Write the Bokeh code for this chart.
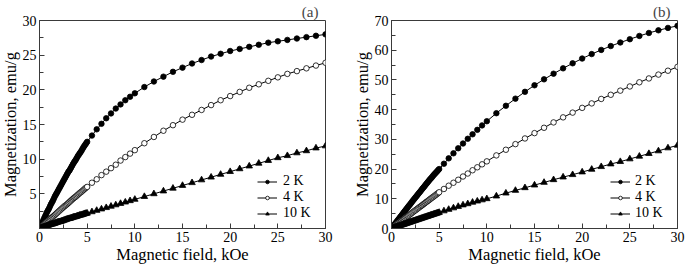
from bokeh.plotting import figure
from bokeh.layouts import row
from bokeh.models import Range1d, SingleIntervalTicker, Legend, LegendItem, Title
from bokeh.embed import file_html
from bokeh.resources import INLINE

# ---- data ----
field = [0.0, 0.1, 0.2, 0.3, 0.4, 0.5, 0.6, 0.7, 0.8, 0.9,
         1.0, 1.1, 1.2, 1.3, 1.4, 1.5, 1.6, 1.7, 1.8, 1.9,
         2.0, 2.1, 2.2, 2.3, 2.4, 2.5, 2.6, 2.7, 2.8, 2.9,
         3.0, 3.1, 3.2, 3.3, 3.4, 3.5, 3.6, 3.7, 3.8, 3.9,
         4.0, 4.1, 4.2, 4.3, 4.4, 4.5, 4.6, 4.7, 4.8, 4.9, 5.0,
         5.5, 6.0, 6.5, 7.0, 7.5, 8.0, 8.5, 9.0, 9.5, 10.0,
         11, 12, 13, 14, 15, 16, 17, 18, 19, 20, 21, 22, 23, 24, 25, 26, 27, 28, 29, 30]

a_2K = [0, 0.3, 0.6, 0.9, 1.2, 1.5, 1.8, 2.1, 2.4, 2.65,
        2.9, 3.2, 3.5, 3.75, 4.0, 4.3, 4.6, 4.85, 5.1, 5.35,
        5.6, 5.85, 6.1, 6.35, 6.6, 6.85, 7.1, 7.35, 7.6, 7.85,
        8.1, 8.3, 8.5, 8.75, 9.0, 9.25, 9.5, 9.7, 9.9, 10.15,
        10.4, 10.6, 10.8, 11.0, 11.2, 11.45, 11.7, 11.9, 12.1, 12.3, 12.5,
        13.4, 14.3, 15.1, 15.9, 16.6, 17.3, 17.9, 18.5, 19.0, 19.5,
        20.4, 21.2, 21.9, 22.6, 23.2, 23.8, 24.3, 24.8, 25.2, 25.6, 25.9, 26.2, 26.5, 26.8,
        27.0, 27.2, 27.4, 27.6, 27.8, 28.0]
a_4K = [0, 0.12, 0.25, 0.37, 0.5, 0.62, 0.75, 0.87, 1.0, 1.12,
        1.25, 1.37, 1.5, 1.6, 1.7, 1.82, 1.95, 2.07, 2.2, 2.32,
        2.45, 2.57, 2.7, 2.82, 2.95, 3.07, 3.2, 3.3, 3.4, 3.52,
        3.65, 3.77, 3.9, 4.02, 4.15, 4.27, 4.4, 4.5, 4.6, 4.72,
        4.85, 4.97, 5.1, 5.2, 5.3, 5.42, 5.55, 5.67, 5.8, 5.9, 6.0,
        6.6, 7.1, 7.7, 8.2, 8.7, 9.2, 9.8, 10.3, 10.8, 11.3,
        12.3, 13.2, 14.1, 14.9, 15.7, 16.4, 17.1, 17.8, 18.5, 19.1, 19.7, 20.3, 20.8, 21.3,
        21.8, 22.3, 22.7, 23.1, 23.5, 23.9]
a_10K = [0, 0.05, 0.1, 0.15, 0.2, 0.25, 0.3, 0.35, 0.4, 0.45,
         0.5, 0.55, 0.6, 0.62, 0.65, 0.7, 0.75, 0.8, 0.85, 0.9,
         0.95, 0.97, 1.0, 1.05, 1.1, 1.15, 1.2, 1.25, 1.3, 1.35,
         1.4, 1.42, 1.45, 1.5, 1.55, 1.6, 1.65, 1.67, 1.7, 1.75,
         1.8, 1.85, 1.9, 1.92, 1.95, 2.0, 2.05, 2.1, 2.15, 2.17, 2.2,
         2.4, 2.6, 2.8, 3.0, 3.2, 3.4, 3.6, 3.8, 4.0, 4.2,
         4.6, 5.0, 5.4, 5.8, 6.2, 6.6, 7.0, 7.4, 7.8, 8.2, 8.6, 9.0, 9.4, 9.8,
         10.2, 10.5, 10.9, 11.2, 11.6, 11.9]

b_2K = [0, 0.42, 0.85, 1.27, 1.7, 2.12, 2.55, 2.97, 3.4, 3.8,
        4.2, 4.62, 5.05, 5.47, 5.9, 6.3, 6.7, 7.12, 7.55, 7.95,
        8.35, 8.77, 9.2, 9.6, 10.0, 10.4, 10.8, 11.2, 11.6, 12.0,
        12.4, 12.8, 13.2, 13.6, 14.0, 14.4, 14.8, 15.2, 15.6, 16.0,
        16.4, 16.75, 17.1, 17.5, 17.9, 18.25, 18.6, 18.95, 19.3, 19.65, 20.0,
        21.8, 23.6, 25.3, 27.0, 28.6, 30.2, 31.7, 33.2, 34.7, 36.1,
        38.8, 41.3, 43.7, 46.0, 48.2, 50.2, 52.1, 53.9, 55.6, 57.2, 58.7, 60.1, 61.4, 62.6,
        63.7, 64.8, 65.8, 66.7, 67.5, 68.2]
b_4K = [0, 0.25, 0.5, 0.75, 1.0, 1.25, 1.5, 1.75, 2.0, 2.25,
        2.5, 2.72, 2.95, 3.2, 3.45, 3.7, 3.95, 4.17, 4.4, 4.65,
        4.9, 5.15, 5.4, 5.65, 5.9, 6.12, 6.35, 6.6, 6.85, 7.1,
        7.35, 7.57, 7.8, 8.05, 8.3, 8.55, 8.8, 9.02, 9.25, 9.5,
        9.75, 10.0, 10.25, 10.47, 10.7, 10.95, 11.2, 11.45, 11.7, 11.95, 12.2,
        13.3, 14.4, 15.4, 16.4, 17.5, 18.5, 19.6, 20.6, 21.6, 22.6,
        24.6, 26.5, 28.4, 30.3, 32.1, 33.9, 35.7, 37.4, 39.0, 40.6, 42.1, 43.6, 45.0, 46.4,
        47.8, 49.2, 50.5, 51.8, 53.1, 54.4]
b_10K = [0, 0.11, 0.22, 0.33, 0.44, 0.55, 0.66, 0.77, 0.88, 0.99,
         1.1, 1.2, 1.3, 1.41, 1.52, 1.63, 1.74, 1.85, 1.95, 2.06,
         2.17, 2.28, 2.39, 2.5, 2.6, 2.71, 2.82, 2.93, 3.04, 3.15,
         3.25, 3.36, 3.47, 3.58, 3.68, 3.79, 3.9, 4.0, 4.11, 4.22,
         4.33, 4.44, 4.54, 4.65, 4.76, 4.86, 4.97, 5.08, 5.18, 5.29, 5.4,
         5.9, 6.4, 6.9, 7.4, 7.9, 8.3, 8.8, 9.2, 9.6, 10.0,
         10.9, 11.9, 12.8, 13.7, 14.6, 15.5, 16.4, 17.3, 18.1, 19.0, 19.9, 20.8, 21.7, 22.5,
         23.4, 24.3, 25.2, 26.1, 27.1, 28.0]

series_labels = ["2 K", "4 K", "10 K"]
panel_tags = ["(a)", "(b)"]
x_label = "Magnetic field, kOe"
y_label = "Magnetization, emu/g"

FONT = "Liberation Serif"
AX = "#3a3a3a"
LEGEND_ROW_Y = [39, 23, 7]   # legend row offsets (px above frame bottom)


def make_panel(series, ymax, yint, tag, width, bl, br, hide_y0, legend_x, label_standoff):
    p = figure(width=width, height=266, output_backend="svg", toolbar_location=None,
               x_range=Range1d(0, 30), y_range=Range1d(0, ymax),
               min_border_left=bl, min_border_right=br, min_border_top=19, min_border_bottom=38)
    p.title = Title(text=tag, align="right", text_font=FONT, text_font_size="15px",
                    text_font_style="normal", standoff=2, offset=7)
    p.xgrid.visible = False
    p.ygrid.visible = False
    p.outline_line_color = AX
    p.outline_line_width = 1
    p.background_fill_color = "white"
    p.border_fill_color = "white"
    p.xaxis.ticker = SingleIntervalTicker(interval=5, num_minor_ticks=2)
    p.yaxis.ticker = SingleIntervalTicker(interval=yint, num_minor_ticks=2)
    p.xaxis.axis_label = x_label
    p.yaxis.axis_label = y_label
    for ax in (p.xaxis, p.yaxis):
        ax.axis_line_color = AX
        ax.major_tick_line_color = AX
        ax.minor_tick_line_color = AX
        ax.major_tick_in = 5
        ax.major_tick_out = 0
        ax.minor_tick_in = 4
        ax.minor_tick_out = 0
        ax.major_label_text_font = FONT
        ax.major_label_text_font_size = "14px"
        ax.major_label_text_color = "black"
        ax.major_label_standoff = 3
        ax.axis_label_text_font = FONT
        ax.axis_label_text_font_size = "16.5px"
        ax.axis_label_text_font_style = "normal"
        ax.axis_label_text_color = "black"
        ax.axis_label_standoff = 0
    if hide_y0:
        p.yaxis.major_label_overrides = {0: ""}

    styles = [dict(marker="circle", size=5.5, fill_color="black", line_color="black"),
              dict(marker="circle", size=5.5, fill_color="white", line_color="black"),
              dict(marker="triangle", size=6.5, fill_color="black", line_color="black")]
    for lab, ys, st, ly in zip(series_labels, series, styles, LEGEND_ROW_Y):
        ln = p.line(field, ys, line_color="black", line_width=1)
        sc = p.scatter(field, ys, line_width=0.8, **st)
        leg = Legend(items=[LegendItem(label=lab, renderers=[ln, sc])],
                     location=(legend_x, ly), padding=0, margin=0,
                     border_line_alpha=0, background_fill_alpha=0,
                     glyph_width=20, glyph_height=9, label_height=12, spacing=0,
                     label_standoff=label_standoff, label_text_font=FONT,
                     label_text_font_size="14px", label_text_color="black")
        p.add_layout(leg)
    return p


p1 = make_panel([a_2K, a_4K, a_10K], 30, 5, panel_tags[0], 343, 39, 15, True, 218, 6)
p1.margin = (0, 0, 0, -3)
p2 = make_panel([b_2K, b_4K, b_10K], 70, 10, panel_tags[1], 345, 51, 8, False, 219, 5)

layout = row(p1, p2)
open("out.html", "w").write(file_html(layout, INLINE))
